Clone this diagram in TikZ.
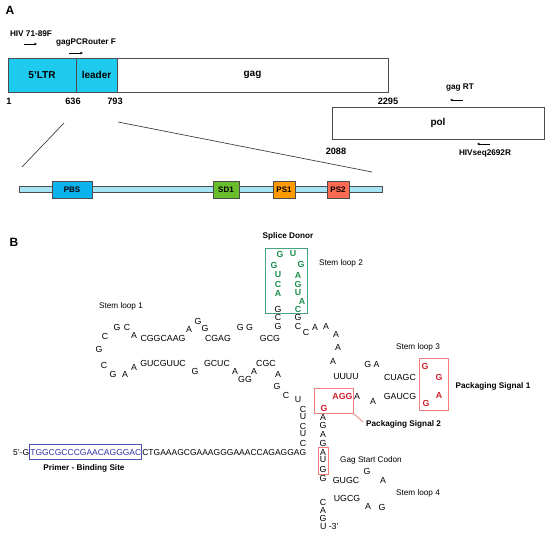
\documentclass[tikz,border=0pt]{standalone}
\usepackage{fontspec}
\setmainfont{Liberation Sans}
\usetikzlibrary{arrows.meta,positioning}
\definecolor{ltrcyan}{HTML}{1ECBEF}
\definecolor{stripblue}{HTML}{A6E3F4}
\definecolor{pbsblue}{HTML}{0AB2EE}
\definecolor{sdgreen}{HTML}{6BBE2B}
\definecolor{psorange}{HTML}{FF9A00}
\definecolor{psred}{HTML}{FF6A52}
\definecolor{donorgreen}{HTML}{1B8E4B}
\definecolor{donorbox}{HTML}{45A383}
\definecolor{sigred}{HTML}{D0202E}
\definecolor{sigbox}{HTML}{F07C7C}
\definecolor{pbstext}{HTML}{2B2F9E}
\definecolor{pbsbox}{HTML}{5053B8}
\begin{document}
\begin{tikzpicture}[x=1pt,y=-1pt,
    every node/.style={inner sep=0pt},
    nt/.style={font=\fontsize{8.8}{10}\selectfont},
    ntg/.style={font=\fontsize{8.8}{10}\selectfont\bfseries,text=donorgreen},
    ntr/.style={font=\fontsize{8.8}{10}\selectfont\bfseries,text=sigred},
    lbl/.style={font=\fontsize{8.2}{10}\selectfont},
    blbl/.style={font=\fontsize{8.2}{10}\selectfont\bfseries},
    num/.style={font=\fontsize{9.2}{11}\selectfont\bfseries},
    panel/.style={font=\fontsize{12}{14}\selectfont\bfseries},
    seg/.style={draw=black!70,line width=0.7pt,minimum height=34pt,font=\fontsize{10}{12}\selectfont\bfseries},
    elem/.style={draw=black!70,line width=0.7pt,minimum height=17pt,font=\fontsize{8}{10}\selectfont\bfseries},
    primer/.style={-{Stealth[length=3pt,width=2.6pt]},line width=0.6pt},
    zoomline/.style={black!75,line width=0.7pt},
    seq/.style={font=\fontsize{8.5}{10}\selectfont,text height=6.2pt,text depth=0pt}]
\useasboundingbox (0,0) rectangle (550,534);

% panel A
\node[panel] (labA) at (10,10) {A};
\node[blbl] (hiv) at (31,34) {HIV 71-89F};
\coordinate (hivA) at (24,44);
\coordinate (hivB) at (37,44);
\draw[primer] (hivA) -- (hivB);
\node[blbl] (gpo) at (86,43) {gagPCRouter F};
\coordinate (gpoA) at (69,53);
\coordinate (gpoB) at (83,53);
\draw[primer] (gpoA) -- (gpoB);

\node[seg,fill=ltrcyan,minimum width=68pt] (ltr) at (42,75) {5'LTR};
\node[seg,fill=ltrcyan,minimum width=41pt] (leader) at (96.5,75) {leader};
\node[seg,fill=white,minimum width=271pt] (gag) at (252.5,75) {gag};
\node[num] (n1) at (9,101) {1};
\node[num] (n636) at (73,101) {636};
\node[num] (n793) at (115,101) {793};
\node[num] (n2295) at (388,101) {2295};

\node[blbl] (gagrt) at (460,88) {gag RT};
\coordinate (rtA) at (463,100);
\coordinate (rtB) at (450,100);
\draw[primer] (rtA) -- (rtB);
\node[seg,fill=white,minimum width=212pt,minimum height=32pt] (pol) at (438,123) {pol};
\node[num] (n2088) at (336,151) {2088};
\coordinate (seqA) at (490,144);
\coordinate (seqB) at (477,144);
\draw[primer] (seqA) -- (seqB);
\node[blbl] (hivseq) at (485,153) {HIVseq2692R};

% zoom onto the leader
\coordinate (zlA) at (64,123);
\coordinate (zlB) at (22,167);
\coordinate (zrA) at (118,122);
\coordinate (zrB) at (372,172);
\draw[zoomline] (zlA) -- (zlB);
\draw[zoomline] (zrA) -- (zrB);

\node[draw=black!70,line width=0.7pt,fill=stripblue,minimum width=363pt,minimum height=6pt] (strip) at (200.5,189) {};
\node[elem,fill=pbsblue,minimum width=40pt] (pbs) at (72,189.5) {PBS};
\node[elem,fill=sdgreen,minimum width=26pt] (sd1) at (226,189.5) {SD1};
\node[elem,fill=psorange,minimum width=22pt] (ps1) at (284,189.5) {PS1};
\node[elem,fill=psred,minimum width=22pt] (ps2) at (338,189.5) {PS2};

% panel B
\node[panel] (labB) at (14,242) {B};

% splice donor, stem loop 2
\node[blbl] (sdlbl) at (288,236) {Splice Donor};
\node[draw=donorbox,line width=0.8pt,minimum width=42pt,minimum height=65pt] (sdbox) at (286,280.5) {};
\node[lbl] (sl2) at (341,263) {Stem loop 2};
\node[ntg] (g1) at (280,254) {G};
\node[ntg] (g2) at (293,254) {U};
\node[ntg] (g3) at (274,265) {G};
\node[ntg] (g4) at (301,264) {G};
\node[ntg] (g5) at (278,275) {U};
\node[ntg] (g6) at (298,275) {A};
\node[ntg] (g7) at (278,284) {C};
\node[ntg] (g8) at (298,284) {G};
\node[ntg] (g9) at (278,293) {A};
\node[ntg] (g10) at (298,293) {U};
\node[ntg] (g11) at (302,301) {A};
\node[ntg] (g12) at (298,309) {C};
\node[nt] (s1) at (278,309) {G};
\node[nt] (s2) at (278,317) {C};
\node[nt] (s3) at (278,326) {G};
\node[nt] (s4) at (298,317) {G};
\node[nt] (s5) at (298,326) {C};
\node[nt] (s6) at (306,332) {C};
\node[nt] (s7) at (315,327) {A};
\node[nt] (s8) at (326,326) {A};
\node[nt] (s9) at (336,334) {A};
\node[nt] (s10) at (338,347) {A};
\node[nt] (s11) at (333,361) {A};

% stem loop 1
\node[lbl] (sl1) at (121,306) {Stem loop 1};
\node[nt] (u1) at (105,336) {C};
\node[nt] (u2) at (117,327) {G};
\node[nt] (u3) at (127,327) {C};
\node[nt] (u4) at (134,335) {A};
\node[nt] (u5) at (163,338) {CGGCAAG};
\node[nt] (u6) at (189,329) {A};
\node[nt] (u7) at (198,321) {G};
\node[nt] (u8) at (205,328) {G};
\node[nt] (u9) at (218,338) {CGAG};
\node[nt] (u10) at (245,327) {G G};
\node[nt] (u11) at (270,338) {GCG};
\node[nt] (l0) at (99,349) {G};
\node[nt] (l1) at (104,365) {C};
\node[nt] (l2) at (113,374) {G};
\node[nt] (l3) at (125,374) {A};
\node[nt] (l4) at (134,367) {A};
\node[nt] (l5) at (163,363) {GUCGUUC};
\node[nt] (l6) at (195,371) {G};
\node[nt] (l7) at (217,363) {GCUC};
\node[nt] (l8) at (235,371) {A};
\node[nt] (l9) at (245,379) {GG};
\node[nt] (l10) at (254,371) {A};
\node[nt] (l11) at (266,363) {CGC};
\node[nt] (l12) at (278,374) {A};
\node[nt] (l13) at (277,386) {G};
\node[nt] (l14) at (286,395) {C};
\node[nt] (l15) at (298,400) {U};

% stem loop 3, packaging signals
\node[lbl] (sl3) at (418,347) {Stem loop 3};
\node[nt] (m1) at (372,364) {G A};
\node[nt] (m2) at (346,377) {UUUU};
\node[nt] (m3) at (400,377) {CUAGC};
\node[ntr] (m4) at (342.5,396) {AGG};
\node[nt] (m5) at (357,396) {A};
\node[nt] (m6) at (373,401) {A};
\node[nt] (m7) at (400,396) {GAUCG};
\node[draw=sigbox,line width=0.8pt,minimum width=29pt,minimum height=52pt] (ps1box) at (433.5,384) {};
\node[ntr] (r1) at (425,366) {G};
\node[ntr] (r2) at (439,377) {G};
\node[ntr] (r3) at (439,395) {A};
\node[ntr] (r4) at (426,403) {G};
\node[blbl] (ps1lbl) at (493,386) {Packaging Signal 1};
\node[draw=sigbox,line width=0.8pt,minimum width=39pt,minimum height=25pt] (ps2box) at (333.5,400.5) {};
\node[ntr] (r5) at (324,408) {G};
\coordinate (ps2end) at (363,422);
\draw[sigbox,line width=0.8pt] (ps2box.south east) -- (ps2end);
\node[blbl,anchor=west] (ps2lbl) at (366,424) {Packaging Signal 2};

% stem down to gag start
\node[nt] (c1) at (303,409) {C};
\node[nt] (c2) at (303,417) {U};
\node[nt] (c3) at (303,426) {C};
\node[nt] (c4) at (303,434) {U};
\node[nt] (c5) at (303,443) {C};
\node[nt] (d1) at (323,417) {A};
\node[nt] (d2) at (323,425) {G};
\node[nt] (d3) at (323,434) {A};
\node[nt] (d4) at (323,443) {G};
\node[nt] (d5) at (323,452) {A};
\node[nt] (d6) at (323,460) {U};
\node[nt] (d7) at (323,469) {G};
\node[nt] (d8) at (323,478) {G};
\node[draw=sigbox,line width=0.8pt,minimum width=10pt,minimum height=27pt] (augbox) at (323,460.5) {};
\node[lbl] (startlbl) at (371,460) {Gag Start Codon};

% stem loop 4
\node[nt] (e1) at (367,471) {G};
\node[nt] (e2) at (346,480) {GUGC};
\node[nt] (e3) at (383,480) {A};
\node[lbl] (sl4) at (418,493) {Stem loop 4};
\node[nt] (e4) at (347,498) {UGCG};
\node[nt] (e5) at (382,507) {G};
\node[nt] (e6) at (368,506) {A};
\node[nt] (f1) at (323,502) {C};
\node[nt] (f2) at (323,510) {A};
\node[nt] (f3) at (323,518) {G};
\node[nt,anchor=west] (f4) at (319.8,526) {U -3'};

% primer binding site line
\node[seq,anchor=west] (five) at (13,452) {5'-G};
\node[seq,anchor=west,draw=pbsbox,line width=0.7pt,inner xsep=0.5pt,inner ysep=4.5pt,text=pbstext] (pbsseq) at (five.east) {TGGCGCCCGAACAGGGAC};
\node[seq,anchor=west] (restseq) at (pbsseq.east) {CTGAAAGCGAAAGGGAAACCAGAGGAG};
\node[blbl] (pbslbl) at (84,468) {Primer - Binding Site};
\end{tikzpicture}
\end{document}
